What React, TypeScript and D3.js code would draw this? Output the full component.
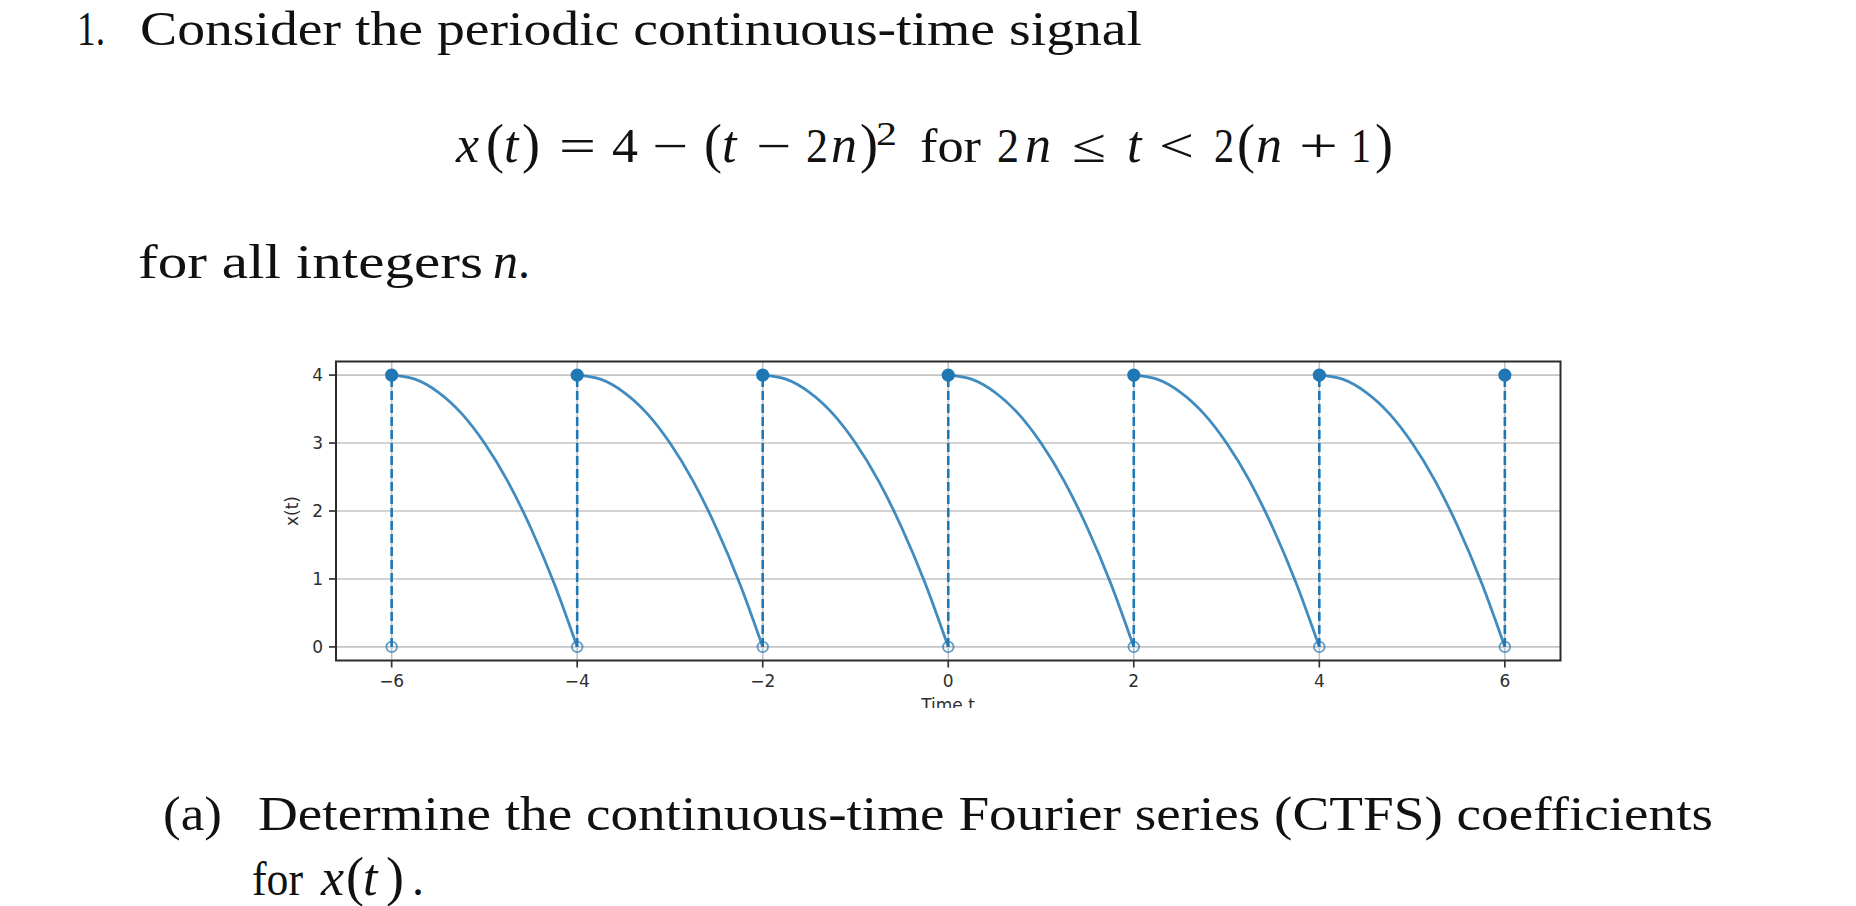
import React, { useEffect } from "react";
import * as d3 from "d3";

// ---- chart data ----
const periodStarts = [-6, -4, -2, 0, 2, 4];
const phaseT = [0, 0.25, 0.5, 0.75, 1, 1.25, 1.5, 1.75, 2];
const phaseX = [4, 3.94, 3.75, 3.44, 3, 2.44, 1.75, 0.94, 0];
const jumpTimes = [-6, -4, -2, 0, 2, 4, 6];
const jumpTop = 4;
const jumpBottom = 0;
const xTicks = [-6, -4, -2, 0, 2, 4, 6];
const yTicks = [0, 1, 2, 3, 4];
const xDomain = [-6.6, 6.6];
const yDomain = [-0.2, 4.2];

const W = 1856;
const H = 906;
const PL = 336, PR = 1560.5, PT = 361.5, PB = 660.5;
const SERIF = "'Liberation Serif', 'Times New Roman', serif";
const SANS = "'DejaVu Sans', sans-serif";
const C0 = "#1f77b4";
const FS = 48;
const IT = 52;
const PAR = 54;

type Tok = { s: string; x: number; w?: number; it?: boolean; size?: number; dy?: number };

const eqTokens: Tok[] = [
  { s: "x", x: 456, it: true, size: IT },
  { s: "(", x: 486, size: PAR },
  { s: "t", x: 504, it: true, size: IT },
  { s: ")", x: 522, size: PAR },
  { s: "=", x: 559, w: 37 },
  { s: "4", x: 612, w: 26 },
  { s: "\u2212", x: 652, w: 36 },
  { s: "(", x: 704, size: PAR },
  { s: "t", x: 722, it: true, size: IT },
  { s: "\u2212", x: 756, w: 35 },
  { s: "2", x: 806, w: 22 },
  { s: "n", x: 831, it: true, size: IT },
  { s: ")", x: 860, size: PAR },
  { s: "2", x: 876, w: 21, size: 33, dy: -17 },
  { s: "for", x: 920, w: 61 },
  { s: "2", x: 997, w: 22 },
  { s: "n", x: 1025, it: true, size: IT },
  { s: "\u2264", x: 1072, w: 34 },
  { s: "t", x: 1127, it: true, size: IT },
  { s: "<", x: 1159, w: 35 },
  { s: "2", x: 1214, w: 20 },
  { s: "(", x: 1237, size: PAR },
  { s: "n", x: 1256, it: true, size: IT },
  { s: "+", x: 1299, w: 39 },
  { s: "1", x: 1351, w: 20 },
  { s: ")", x: 1375, size: PAR },
];

const lastLine: Tok[] = [
  { s: "for", x: 252, w: 51 },
  { s: "x", x: 321, it: true, size: IT },
  { s: "(", x: 346, size: PAR },
  { s: "t", x: 363, it: true, size: IT },
  { s: ")", x: 386, size: PAR },
  { s: ".", x: 412 },
];

function Span({ x, y, w, children, italic }: { x: number; y: number; w?: number; children: React.ReactNode; italic?: boolean }) {
  return (
    <text
      x={x}
      y={y}
      fontFamily={SERIF}
      fontSize={italic ? IT : FS}
      fontStyle={italic ? "italic" : "normal"}
      fill="#111"
      textLength={w}
      lengthAdjust={w ? "spacingAndGlyphs" : undefined}
    >
      {children}
    </text>
  );
}

function Tokens({ toks, y }: { toks: Tok[]; y: number }) {
  return (
    <g>
      {toks.map((t, i) => (
        <text
          key={i}
          x={t.x}
          y={y + (t.dy || 0)}
          fontFamily={SERIF}
          fontSize={t.size || FS}
          fontStyle={t.it ? "italic" : "normal"}
          fill="#111"
          textLength={t.w}
          lengthAdjust={t.w ? "spacingAndGlyphs" : undefined}
        >
          {t.s}
        </text>
      ))}
    </g>
  );
}

export default function App() {
  useEffect(() => {
    document.body.style.margin = "0";
    document.body.style.background = "#fff";
  }, []);

  const xs = d3.scaleLinear().domain(xDomain).range([PL, PR]);
  const ys = d3.scaleLinear().domain(yDomain).range([PB, PT]);
  const line = d3
    .line<[number, number]>()
    .x((d) => xs(d[0]))
    .y((d) => ys(d[1]))
    .curve(d3.curveMonotoneX);

  return (
    <svg width={W} height={H} style={{ position: "absolute", left: 0, top: 0, background: "#fff" }}>
      <defs>
        <clipPath id="labelClip">
          <rect x={0} y={0} width={W} height={708} />
        </clipPath>
        <clipPath id="plotClip">
          <rect x={PL} y={PT} width={PR - PL} height={PB - PT} />
        </clipPath>
      </defs>

      {/* Heading */}
      <Span x={77} y={45} w={28}>1.</Span>
      <Span x={140} y={45} w={1002}>Consider the periodic continuous-time signal</Span>

      {/* Equation */}
      <Tokens toks={eqTokens} y={162} />

      <Span x={138} y={278} w={345}>for all integers</Span>
      <text x={493} y={278} fontFamily={SERIF} fontSize={FS} fill="#111">
        <tspan fontStyle="italic" fontSize={50}>n</tspan>
        <tspan>.</tspan>
      </text>

      {/* Plot */}
      <g>
        {yTicks.map((v) => (
          <line key={"gy" + v} x1={PL} x2={PR} y1={ys(v)} y2={ys(v)} stroke="#c4c4c4" strokeWidth={1.6} />
        ))}
        {xTicks.map((v) => (
          <line key={"gx" + v} x1={xs(v)} x2={xs(v)} y1={PT} y2={PB} stroke="#c4c4c4" strokeWidth={1.6} />
        ))}

        <g clipPath="url(#plotClip)">
          {periodStarts.map((p) => (
            <path
              key={"c" + p}
              d={line(phaseT.map((t, i) => [p + t, phaseX[i]] as [number, number])) || ""}
              fill="none"
              stroke={C0}
              strokeOpacity={0.85}
              strokeWidth={2.8}
            />
          ))}
          {jumpTimes.map((t) => (
            <line
              key={"d" + t}
              x1={xs(t)}
              x2={xs(t)}
              y1={ys(jumpBottom)}
              y2={ys(jumpTop)}
              stroke={C0}
              strokeWidth={2.6}
              strokeDasharray="9,4"
            />
          ))}
          {jumpTimes.map((t) => (
            <circle key={"f" + t} cx={xs(t)} cy={ys(jumpTop)} r={6.6} fill={C0} />
          ))}
          {jumpTimes.map((t) => (
            <circle
              key={"o" + t}
              cx={xs(t)}
              cy={ys(jumpBottom)}
              r={5.3}
              fill="none"
              stroke={C0}
              strokeOpacity={0.7}
              strokeWidth={1.8}
            />
          ))}
        </g>

        <rect x={PL} y={PT} width={PR - PL} height={PB - PT} fill="none" stroke="#2b2b2b" strokeWidth={2} />

        {xTicks.map((v) => (
          <g key={"xt" + v}>
            <line x1={xs(v)} x2={xs(v)} y1={PB} y2={PB + 7} stroke="#333" strokeWidth={1.7} />
            <text x={xs(v)} y={687} textAnchor="middle" fontFamily={SANS} fontSize={17} fill="#2e2e2e">
              {v < 0 ? "\u2212" + Math.abs(v) : String(v)}
            </text>
          </g>
        ))}
        {yTicks.map((v) => (
          <g key={"yt" + v}>
            <line x1={PL - 7} x2={PL} y1={ys(v)} y2={ys(v)} stroke="#333" strokeWidth={1.7} />
            <text x={323} y={ys(v)} dy="0.36em" textAnchor="end" fontFamily={SANS} fontSize={17} fill="#2e2e2e">
              {v}
            </text>
          </g>
        ))}

        <text
          transform={`translate(298, ${(PT + PB) / 2}) rotate(-90)`}
          textAnchor="middle"
          fontFamily={SANS}
          fontSize={17}
          fill="#2e2e2e"
        >
          x(t)
        </text>
        <g clipPath="url(#labelClip)">
          <text x={948} y={711} textAnchor="middle" fontFamily={SANS} fontSize={17} fill="#2e2e2e">
            Time t
          </text>
        </g>
      </g>

      {/* Question (a) */}
      <Span x={163} y={830} w={59}>(a)</Span>
      <Span x={258} y={830} w={1455}>Determine the continuous-time Fourier series (CTFS) coefficients</Span>
      <Tokens toks={lastLine} y={895} />
    </svg>
  );
}
